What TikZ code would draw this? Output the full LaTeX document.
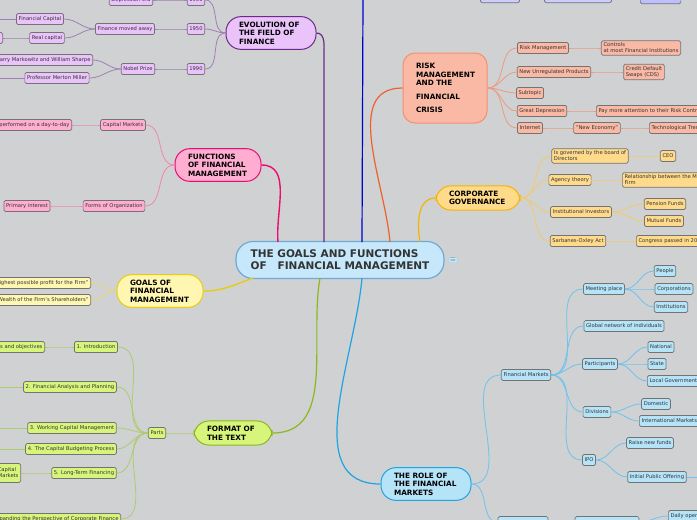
\documentclass[tikz,border=0pt]{standalone}
\usepackage{fontspec}
\setmainfont{DejaVu Sans}
\usepackage{xcolor}
\usetikzlibrary{positioning}
\definecolor{bg}{HTML}{D0D1D3}
\definecolor{purF}{HTML}{EAC3FA}\definecolor{purD}{HTML}{6A2C86}\definecolor{purL}{HTML}{A07FB6}
\definecolor{pinF}{HTML}{FFADD0}\definecolor{pinD}{HTML}{EE0A70}\definecolor{pinL}{HTML}{EF86AE}
\definecolor{yelF}{HTML}{FFF6B2}\definecolor{yelD}{HTML}{E8CC10}\definecolor{yelL}{HTML}{E9D770}
\definecolor{grnF}{HTML}{D7F57B}\definecolor{grnD}{HTML}{8CB81E}\definecolor{grnL}{HTML}{AFCB70}
\definecolor{salF}{HTML}{F9B9A5}\definecolor{salD}{HTML}{F0602E}\definecolor{salL}{HTML}{EE9A80}
\definecolor{golF}{HTML}{FFDA8B}\definecolor{golD}{HTML}{F5B400}\definecolor{golL}{HTML}{F2CB6A}
\definecolor{bluF}{HTML}{B5E3F8}\definecolor{bluD}{HTML}{1EA3E3}\definecolor{bluL}{HTML}{6EC3EC}
\definecolor{cenF}{HTML}{C6E8FA}\definecolor{cenD}{HTML}{6FA9D6}
\tikzset{
  leaf/.style={draw=black!55, line width=0.7pt, rounded corners=1.5pt, inner sep=2.2pt,
    font=\fontsize{5.2}{6}\selectfont, align=left, text=black!80, minimum height=11pt},
  topic/.style={rounded corners=15pt, line width=1pt, font=\fontsize{7.3}{8.6}\selectfont\bfseries,
    align=left, text width=60pt, inner xsep=13pt, inner ysep=5pt},
  link/.style={line width=0.8pt},
  pur/.style={leaf, fill=purF}, pin/.style={leaf, fill=pinF}, yel/.style={leaf, fill=yelF},
  grn/.style={leaf, fill=grnF}, sal/.style={leaf, fill=salF}, gol/.style={leaf, fill=golF},
  blu/.style={leaf, fill=bluF}
}
\newcommand{\rlink}[3]{\draw[link,#1] (#2.east) to[out=0,in=180] (#3.west);}
\newcommand{\llink}[3]{\draw[link,#1] (#2.west) to[out=180,in=0] (#3.east);}
\begin{document}
\begin{tikzpicture}[x=1pt,y=-1pt]
  \useasboundingbox (0,0) rectangle (697,520);
  \fill[bg] (0,0) rectangle (697,520);
  \clip (0,0) rectangle (697,520);

  % Center
  \node[draw=cenD, fill=cenF, line width=1.2pt, rounded corners=17pt, minimum width=208pt,
    minimum height=37pt, font=\fontsize{10.5}{12}\selectfont\bfseries, align=left, text=black!80]
    (c) at (340,260) {THE GOALS AND FUNCTIONS\\OF \ \ FINANCIAL MANAGEMENT};
  \node[fill=cenF, draw=cenD!60, rounded corners=1pt, font=\fontsize{7}{7}\selectfont, inner sep=1pt,
    text=black!60] (menu) at (453,260) {$\equiv$};

  % Main topics
  \node[topic, draw=purD, fill=purF, text width=64pt] (evo) at (271,33) {EVOLUTION OF\\THE FIELD OF\\FINANCE};
  \node[topic, draw=pinD, fill=pinF] (fun) at (218,165) {FUNCTIONS\\OF FINANCIAL\\MANAGEMENT};
  \node[topic, draw=yelD, fill=yelF] (goa) at (160,291) {GOALS OF\\FINANCIAL\\MANAGEMENT};
  \node[topic, draw=grnD, fill=grnF, text width=52pt] (fmt) at (233,433) {FORMAT OF\\THE TEXT};
  \node[topic, draw=salD!70, fill=salF, text width=58pt, minimum height=70pt, rounded corners=12pt]
    (risk) at (445,88) {RISK\\MANAGEMENT\\AND THE\\[5pt]FINANCIAL\\[5pt]CRISIS};
  \node[topic, draw=golD, fill=golF, text width=58pt] (gov) at (478,198) {CORPORATE\\GOVERNANCE};
  \node[topic, draw=bluD, fill=bluF, text width=64pt] (role) at (426,484) {THE ROLE OF\\THE FINANCIAL\\MARKETS};

  % Branches from center
  \draw[purD, line width=1.2pt] (324,242) -- (324,55) to[out=90,in=0] (evo.east);
  \draw[pinD, line width=1.4pt] (278,242) to[out=95,in=0] (fun.east);
  \draw[blue!80!black, line width=1.2pt] (362,242) -- (363,0);
  \draw[salD, line width=1.2pt] (390,242) to[out=95,in=180] (risk.west);
  \draw[golD, line width=1.2pt] (420,242) to[out=100,in=180] (gov.west);
  \draw[yelD, line width=1.4pt] (253,278) to[out=200,in=0] (goa.east);
  \draw[grnD, line width=1.2pt] (320,278) to[out=-100,in=0] (fmt.east);
  \draw[bluD, line width=1.2pt] (362,278) to[out=-95,in=180] (role.west);

  % Evolution
  \node[pur] (y30) at (196,0) {1930};
  \node[pur] (y50) at (196,29) {1950};
  \node[pur] (y90) at (196,69) {1990};
  \node[pur] (dep) at (131,0) {Depression era};
  \node[pur] (away) at (125,29) {Finance moved away};
  \node[pur] (fcap) at (40,19) {Financial Capital};
  \node[pur] (rcap) at (47,38) {Real capital};
  \node[pur, anchor=east] (rx) at (3,38) {Physical};
  \node[pur] (nob) at (138,69) {Nobel Prize};
  \node[pur, anchor=east] (hm) at (93,60) {Harry Markowitz and William Sharpe};
  \node[pur] (mm) at (57,78) {Professor Merton Miller};
  \foreach \k in {y30,y50,y90} {\llink{purL}{evo}{\k}}
  \llink{purL}{y30}{dep} \llink{purL}{y50}{away} \llink{purL}{y90}{nob}
  \llink{purL}{away}{fcap} \llink{purL}{away}{rcap} \llink{purL}{rcap}{rx}
  \llink{purL}{nob}{hm} \llink{purL}{nob}{mm}
  \draw[link,purL] (fcap.west) -- (0,19);
  \draw[link,purL] (mm.west) -- (0,78);

  % Functions
  \node[pin] (cm) at (123,125) {Capital Markets};
  \node[pin, anchor=east] (dd) at (72,125) {Is performed on a day-to-day};
  \node[pin] (forg) at (114,206) {Forms of Organization};
  \node[pin] (pint) at (27,206) {Primary interest};
  \llink{pinL}{fun}{cm} \llink{pinL}{fun}{forg} \llink{pinL}{cm}{dd} \llink{pinL}{forg}{pint}

  % Goals
  \node[yel, anchor=east] (g1) at (91,283) {``Highest possible profit for the Firm''};
  \node[yel, anchor=east] (g2) at (91,300) {``Wealth of the Firm's Shareholders''};
  \llink{yelL}{goa}{g1} \llink{yelL}{goa}{g2}

  % Format
  \node[grn] (parts) at (157,433) {Parts};
  \node[grn] (p1) at (96,347) {1. Introduction};
  \node[grn, anchor=east] (p1a) at (45,347) {Goals and objectives};
  \node[grn] (p2) at (70,387) {2. Financial Analysis and Planning};
  \node[grn] (p3) at (72,428) {3. Working Capital Management};
  \node[grn] (p4) at (71,449) {4. The Capital Budgeting Process};
  \node[grn] (p5) at (84,473) {5. Long-Term Financing};
  \node[grn, anchor=east, minimum height=19pt] (p5a) at (21,473) {Capital\\Markets};
  \node[grn, anchor=east] (p6) at (121,519) {6. Expanding the Perspective of Corporate Finance};
  \llink{grnL}{fmt}{parts}
  \foreach \k in {p1,p2,p3,p4,p5,p6} {\llink{grnL}{parts}{\k}}
  \llink{grnL}{p1}{p1a} \llink{grnL}{p5}{p5a}
  \draw[link,grnL] (p2.west) -- (0,387);
  \draw[link,grnL] (p3.west) -- (0,428);
  \draw[link,grnL] (p4.west) -- (0,449);

  % Risk
  \node[sal] (rm) at (543,48) {Risk Management};
  \node[sal] (ctl) at (641,48) {Controls\\at most Financial Institutions};
  \node[sal] (nup) at (554,72) {New Unregulated Products};
  \node[sal] (cds) at (644,72) {Credit Default\\Swaps (CDS)};
  \node[sal] (sub) at (530,93) {Subtopic};
  \node[sal] (gd) at (542,111) {Great Depression};
  \node[sal, anchor=west] (pay) at (596,111) {Pay more attention to their Risk Controls};
  \node[sal] (int) at (530,128) {Internet};
  \node[sal] (ne) at (597,128) {``New Economy''};
  \node[sal, anchor=west] (tt) at (649,128) {Technological Trends};
  \foreach \k in {rm,nup,sub,gd,int} {\rlink{salL}{risk}{\k}}
  \rlink{salL}{rm}{ctl} \rlink{salL}{nup}{cds} \rlink{salL}{gd}{pay}
  \rlink{salL}{int}{ne} \rlink{salL}{ne}{tt}

  % Governance
  \node[gol] (bd) at (590,156) {Is governed by the board of\\Directors};
  \node[gol] (ceo) at (668,156) {CEO};
  \node[gol] (ag) at (570,180) {Agency theory};
  \node[gol, anchor=west] (rel) at (622,180) {Relationship between the Managers and the\\Firm};
  \node[gol] (ii) at (581,212) {Institutional Investors};
  \node[gol] (pf) at (665,204) {Pension Funds};
  \node[gol] (mf) at (664,221) {Mutual Funds};
  \node[gol] (sox) at (578,241) {Sarbanes-Oxley Act};
  \node[gol, anchor=west] (cong) at (636,241) {Congress passed in 2002};
  \foreach \k in {bd,ag,ii,sox} {\rlink{golL}{gov}{\k}}
  \rlink{golL}{bd}{ceo} \rlink{golL}{ag}{rel} \rlink{golL}{ii}{pf} \rlink{golL}{ii}{mf} \rlink{golL}{sox}{cong}

  % Role
  \node[blu] (fm) at (526,375) {Financial Markets};
  \node[blu] (mp) at (604,289) {Meeting place};
  \node[blu] (peo) at (665,271) {People};
  \node[blu] (corp) at (674,289) {Corporations};
  \node[blu] (inst) at (671,307) {Institutions};
  \node[blu] (glob) at (624,326) {Global network of individuals};
  \node[blu] (par) at (600,364) {Participants};
  \node[blu] (nat) at (661,347) {National};
  \node[blu] (st) at (657,364) {State};
  \node[blu, anchor=west] (loc) at (647,381) {Local Governments};
  \node[blu] (div) at (597,412) {Divisions};
  \node[blu] (dom) at (656,404) {Domestic};
  \node[blu, anchor=west] (intl) at (639,421) {International Markets};
  \node[blu] (ipo) at (589,460) {IPO};
  \node[blu] (rnf) at (650,443) {Raise new funds};
  \node[blu] (ipof) at (657,477) {Initial Public Offering};
  \node[blu, minimum width=50pt] (b1) at (523,522) {};
  \node[blu, minimum width=64pt] (b2) at (607,522) {};
  \node[blu, anchor=west] (dop) at (668,516) {Daily operations};
  \rlink{bluL}{role}{fm} \rlink{bluL}{role}{b1} \rlink{bluL}{b1}{b2} \rlink{bluL}{b2}{dop}
  \foreach \k in {mp,glob,par,div,ipo} {\rlink{bluL}{fm}{\k}}
  \foreach \k in {peo,corp,inst} {\rlink{bluL}{mp}{\k}}
  \foreach \k in {nat,st,loc} {\rlink{bluL}{par}{\k}}
  \rlink{bluL}{div}{dom} \rlink{bluL}{div}{intl}
  \rlink{bluL}{ipo}{rnf} \rlink{bluL}{ipo}{ipof}
  \draw[link,bluL] (ipof.east) -- (697,477);

  % Top right boxes
  \node[blu, fill=blue!20, minimum width=39pt, anchor=south] (t1) at (500,3) {};
  \node[blu, fill=blue!20, minimum width=67pt, anchor=south] (t2) at (578,3) {};
  \node[blu, fill=blue!25, anchor=south west] (t3) at (640,4) {Financial data};
  \rlink{bluL}{t1}{t2} \rlink{bluL}{t2}{t3}
\end{tikzpicture}
\end{document}
